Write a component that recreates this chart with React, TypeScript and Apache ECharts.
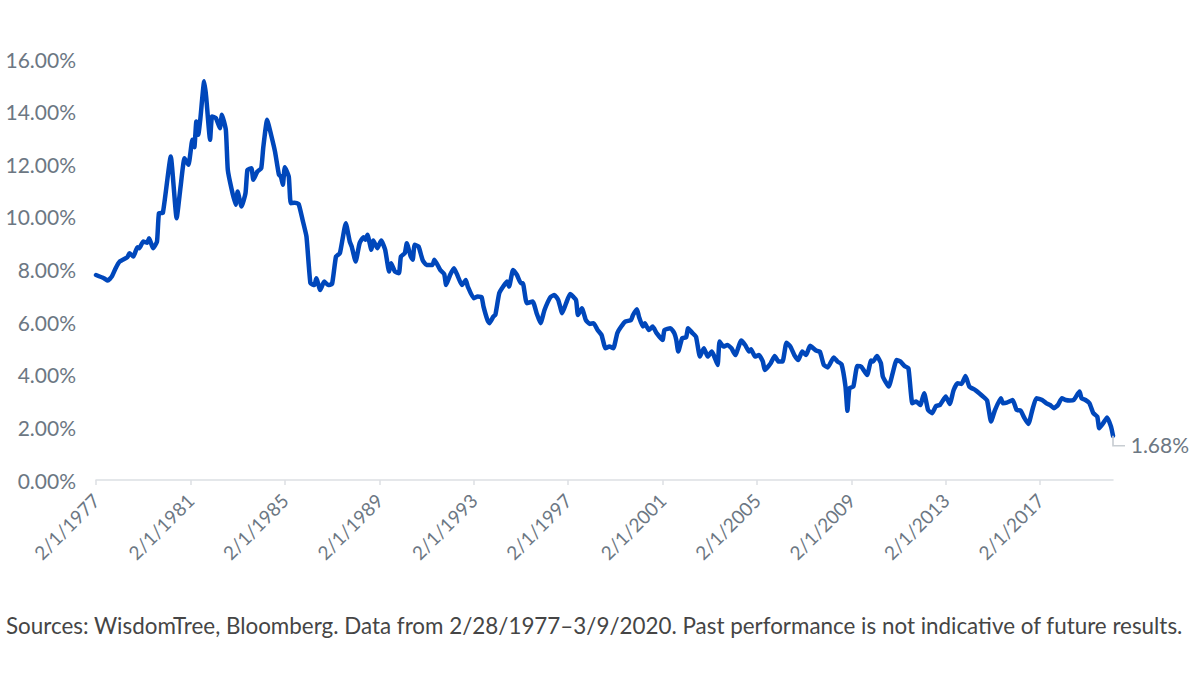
import React, { useEffect, useRef } from "react";
import * as echarts from "echarts";

// x values: months elapsed since 2/1/1977
const monthOffsets = [
  0, 4, 6, 8, 10, 12, 16, 17, 19, 21, 22, 24, 26, 27, 29, 31, 32, 34, 38, 41, 43, 45, 47, 49, 50, 51, 52, 53, 55, 56,
  58, 59, 61, 63, 64, 66, 67, 69, 71, 72, 74, 76, 77, 79, 80, 82, 84, 85, 87, 89, 91, 93, 94, 95, 96, 98, 99, 101, 103, 105,
  107, 109, 111, 112, 114, 116, 118, 120, 122, 124, 127, 129, 130, 132, 134, 136, 137, 138, 140, 141, 143, 145, 147, 149, 150, 152, 154, 155, 157, 158,
  160, 161, 162, 164, 166, 168, 171, 172, 175, 177, 178, 180, 182, 184, 186, 188, 189, 192, 194, 196, 197, 199, 200, 202, 203, 205, 207, 209, 210, 212,
  214, 216, 217, 219, 222, 224, 226, 228, 231, 233, 235, 237, 239, 241, 244, 245, 247, 249, 251, 253, 255, 257, 259, 261, 263, 265, 267, 269, 272, 273,
  275, 276, 278, 279, 281, 283, 285, 288, 289, 292, 294, 295, 296, 298, 300, 301, 303, 305, 307, 309, 311, 313, 314, 316, 317, 319, 321, 323, 325, 328,
  330, 332, 333, 335, 337, 339, 340, 343, 345, 347, 349, 351, 353, 355, 357, 359, 361, 363, 366, 368, 370, 372, 375, 377, 379, 381, 382, 383, 385, 387,
  389, 392, 394, 395, 397, 399, 400, 403, 405, 407, 409, 411, 413, 415, 417, 419, 421, 423, 425, 427, 429, 432, 434, 436, 438, 440, 442, 444, 447, 449,
  451, 453, 455, 457, 460, 461, 463, 466, 468, 470, 472, 474, 476, 478, 481, 483, 485, 487, 489, 491, 493, 495, 497, 500, 501, 503, 505, 507, 509, 510,
  512, 514, 516, 517,
];

// yield values in percent
const yields = [
  7.79, 7.67, 7.58, 7.73, 8.05, 8.3, 8.47, 8.62, 8.49, 8.85, 8.81, 9.06, 9.02, 9.19, 8.81, 9.06, 10.14, 10.16, 12.29, 9.95, 11.15, 12.23, 11.98, 12.93, 12.65, 13.62, 13.12, 13.69, 15.15, 14.57,
  12.93, 13.81, 13.75, 13.37, 13.88, 13.31, 11.79, 11.03, 10.46, 10.96, 10.39, 10.9, 11.79, 11.85, 11.41, 11.72, 11.85, 12.61, 13.69, 13.12, 12.48, 11.6, 11.53, 11.22, 11.89, 11.53, 10.52, 10.54, 10.49, 9.89,
  9.25, 7.48, 7.41, 7.67, 7.22, 7.54, 7.41, 7.45, 8.49, 8.62, 9.76, 9.06, 8.87, 8.3, 9.0, 9.23, 9.13, 9.32, 8.75, 9.1, 8.81, 9.1, 8.75, 7.92, 8.24, 7.92, 7.86, 8.49, 8.62, 9.0,
  8.49, 8.37, 8.94, 8.87, 8.37, 8.17, 8.17, 8.37, 7.98, 7.83, 7.41, 7.79, 8.05, 7.73, 7.41, 7.6, 7.35, 6.91, 6.97, 6.95, 6.59, 6.08, 5.96, 6.21, 6.27, 7.1, 7.35, 7.54, 7.35, 7.98,
  7.79, 7.48, 7.48, 6.72, 6.78, 6.34, 5.96, 6.46, 6.95, 7.03, 6.84, 6.34, 6.72, 7.07, 6.84, 6.27, 6.53, 6.08, 5.93, 5.96, 5.7, 5.51, 5.01, 5.07, 5.01, 5.58, 5.83, 6.02, 6.08, 6.27,
  6.49, 6.21, 5.83, 5.96, 5.7, 5.83, 5.58, 5.32, 5.7, 5.77, 5.58, 5.32, 4.88, 5.39, 5.42, 5.77, 5.6, 5.45, 4.69, 5.01, 4.69, 4.88, 4.75, 4.37, 5.26, 5.07, 5.13, 5.01, 4.75, 5.3,
  5.13, 4.88, 4.97, 4.69, 4.75, 4.5, 4.18, 4.44, 4.71, 4.5, 4.5, 5.22, 5.07, 4.75, 4.56, 4.88, 4.75, 5.1, 4.92, 4.88, 4.37, 4.28, 4.66, 4.5, 4.4, 3.55, 2.63, 3.49, 3.55, 4.33,
  4.31, 3.99, 4.54, 4.5, 4.71, 4.44, 3.93, 3.55, 4.06, 4.56, 4.5, 4.33, 4.25, 2.92, 2.98, 2.85, 3.3, 2.66, 2.54, 2.81, 2.85, 3.17, 2.89, 3.42, 3.68, 3.65, 3.95, 3.55, 3.42, 3.3,
  3.17, 3.02, 2.22, 2.66, 3.11, 2.92, 2.94, 3.04, 2.66, 2.64, 2.35, 2.13, 2.66, 3.11, 3.04, 2.92, 2.85, 2.73, 2.85, 3.11, 3.04, 3.02, 3.04, 3.36, 3.11, 3.04, 2.92, 2.54, 2.41, 1.97,
  2.16, 2.38, 2.03, 1.68,
];

// x-axis tick labels (every four years, on 2/1)
const tickYears = [1977, 1981, 1985, 1989, 1993, 1997, 2001, 2005, 2009, 2013, 2017];
const yTicks = [0, 2, 4, 6, 8, 10, 12, 14, 16];
const lastLabel = "1.68%";
const footnote =
  "Sources: WisdomTree, Bloomberg. Data from 2/28/1977\u20133/9/2020. Past performance is not indicative of future results.";

const FONT = "Lato, 'Open Sans', sans-serif";
const LABEL_COLOR = "#6c7783";

export default function App() {
  const ref = useRef<HTMLDivElement>(null);

  useEffect(() => {
    if (!ref.current) return;
    const chart = echarts.init(ref.current, undefined, { renderer: "svg" });
    const tickMonths = tickYears.map((y) => (y - 1977) * 12);
    const lastIdx = monthOffsets.length - 1;
    const seriesData = monthOffsets.map((m, i) => [m, yields[i]]);

    chart.setOption({
      animation: false,
      title: {
        text: footnote,
        left: 1,
        top: 609,
        textStyle: { fontSize: 22.4, fontWeight: "normal", color: "#454545", fontFamily: FONT },
      },
      grid: { left: 96, right: 87, top: 59, bottom: 196, containLabel: false },
      xAxis: {
        type: "value",
        min: 0,
        max: monthOffsets[lastIdx],
        interval: 48,
        splitLine: { show: false },
        axisLine: { show: true, lineStyle: { color: "#dcdfe3", width: 1.5 } },
        axisTick: {
          show: true,
          customValues: tickMonths,
          length: 5,
          lineStyle: { color: "#dcdfe3", width: 1.5 },
        },
        axisLabel: {
          customValues: tickMonths,
          rotate: 45,
          margin: 17,
          fontSize: 19,
          fontFamily: FONT,
          color: LABEL_COLOR,
          formatter: (v: number) => "2/1/" + (1977 + Math.round(v / 12)),
        },
      },
      yAxis: {
        type: "value",
        min: yTicks[0],
        max: yTicks[yTicks.length - 1],
        interval: 2,
        splitLine: { show: false },
        axisLine: { show: false },
        axisTick: { show: false },
        axisLabel: {
          margin: 20,
          fontSize: 21,
          fontFamily: FONT,
          color: LABEL_COLOR,
          formatter: (v: number) => v.toFixed(2) + "%",
        },
      },
      series: [
        {
          type: "line",
          data: seriesData,
          showSymbol: false,
          symbol: "none",
          smooth: 0.15,
          lineStyle: { color: "#0047bb", width: 4.5, join: "round", cap: "round" },
          itemStyle: { color: "#0047bb" },
          markPoint: {
            silent: true,
            data: [
              {
                coord: [monthOffsets[lastIdx], yields[lastIdx]],
                symbol: "path://M0,0 L0,10 L12,10",
                symbolSize: [12, 10],
                symbolOffset: [6, 5],
                symbolKeepAspect: false,
                itemStyle: { color: "none", borderColor: "#c8cdd2", borderWidth: 1.5 },
                label: {
                  show: true,
                  position: "right",
                  distance: 3,
                  offset: [0, 4],
                  formatter: lastLabel,
                  color: LABEL_COLOR,
                  fontSize: 21,
                  fontFamily: FONT,
                },
              },
            ],
          },
        },
      ],
    });
    return () => chart.dispose();
  }, []);

  return (
    <div
      ref={ref}
      style={{ position: "absolute", left: 0, top: 0, width: 1200, height: 676, background: "#fff" }}
    />
  );
}
